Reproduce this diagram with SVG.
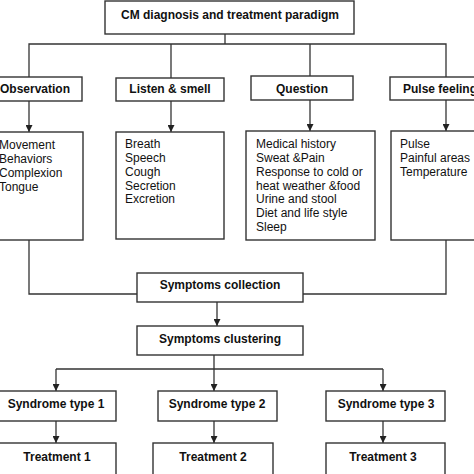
<svg xmlns="http://www.w3.org/2000/svg" width="474" height="474" viewBox="0 0 474 474">
<style>
.b{fill:#fff;stroke:#333;stroke-width:1.4}
.l{fill:none;stroke:#333;stroke-width:1.3}
.t{font-family:"Liberation Sans",Arial,sans-serif;font-size:12px;font-weight:bold;fill:#111;text-anchor:middle}
.s{font-family:"Liberation Sans",Arial,sans-serif;font-size:12px;fill:#111}
</style>
<defs>
<marker id="a" viewBox="0 0 10 10" refX="10" refY="5" markerWidth="7" markerHeight="7" markerUnits="userSpaceOnUse" orient="auto">
<path d="M0,0L10,5L0,10z" fill="#222"/>
</marker>
</defs>
<rect width="474" height="474" fill="#fff"/>
<g id="connectors">
<path class="l" d="M225,34V44M29,77V44H446V77M171,44V78M310,44V76"/>
<path class="l" d="M29,101V132" marker-end="url(#a)"/>
<path class="l" d="M171,101V132" marker-end="url(#a)"/>
<path class="l" d="M310,100V131" marker-end="url(#a)"/>
<path class="l" d="M446,100V131" marker-end="url(#a)"/>
<path class="l" d="M29,240V294H137M446,240V294H303"/>
<path class="l" d="M217,302V326" marker-end="url(#a)"/>
<path class="l" d="M214,355V369M56,369H383"/>
<path class="l" d="M56,369V391" marker-end="url(#a)"/>
<path class="l" d="M214,369V391" marker-end="url(#a)"/>
<path class="l" d="M383,369V391" marker-end="url(#a)"/>
<path class="l" d="M56,421V443" marker-end="url(#a)"/>
<path class="l" d="M214,421V443" marker-end="url(#a)"/>
<path class="l" d="M383,421V443" marker-end="url(#a)"/>
</g>
<g id="top"><rect class="b" x="105" y="1" width="249" height="33"/><text class="t" x="230" y="19">CM diagnosis and treatment paradigm</text></g>
<g id="observation"><rect class="b" x="-12" y="77" width="94" height="24"/><text class="t" x="35" y="93">Observation</text></g>
<g id="listen"><rect class="b" x="116" y="78" width="108" height="23"/><text class="t" x="170" y="93">Listen &amp; smell</text></g>
<g id="question"><rect class="b" x="251" y="76" width="102" height="24"/><text class="t" x="302" y="93">Question</text></g>
<g id="pulse"><rect class="b" x="390" y="77" width="110" height="23"/><text class="t" x="440" y="93">Pulse feeling</text></g>
<g id="obs-list"><rect class="b" x="-12" y="132" width="95" height="108"/>
<text class="s" x="-1" y="149">Movement</text><text class="s" x="-1" y="163">Behaviors</text><text class="s" x="-1" y="177">Complexion</text><text class="s" x="-1" y="191">Tongue</text></g>
<g id="listen-list"><rect class="b" x="116" y="132" width="108" height="107"/>
<text class="s" x="125" y="148">Breath</text><text class="s" x="125" y="162">Speech</text><text class="s" x="125" y="176">Cough</text><text class="s" x="125" y="190">Secretion</text><text class="s" x="125" y="203">Excretion</text></g>
<g id="question-list"><rect class="b" x="246" y="131" width="129" height="109"/>
<text class="s" x="256" y="148">Medical history</text><text class="s" x="256" y="162">Sweat &amp;Pain</text><text class="s" x="256" y="176">Response to cold or</text><text class="s" x="256" y="190">heat weather &amp;food</text><text class="s" x="256" y="203">Urine and stool</text><text class="s" x="256" y="217">Diet and life style</text><text class="s" x="256" y="231">Sleep</text></g>
<g id="pulse-list"><rect class="b" x="391" y="131" width="110" height="109"/>
<text class="s" x="400" y="148">Pulse</text><text class="s" x="400" y="162">Painful areas</text><text class="s" x="400" y="176">Temperature</text></g>
<g id="collection"><rect class="b" x="137" y="273" width="166" height="29"/><text class="t" x="220" y="289">Symptoms collection</text></g>
<g id="clustering"><rect class="b" x="137" y="326" width="166" height="29"/><text class="t" x="220" y="343">Symptoms clustering</text></g>
<g id="syn1"><rect class="b" x="-4" y="391" width="120" height="30"/><text class="t" x="56" y="408">Syndrome type 1</text></g>
<g id="syn2"><rect class="b" x="158" y="391" width="119" height="30"/><text class="t" x="217" y="408">Syndrome type 2</text></g>
<g id="syn3"><rect class="b" x="326" y="391" width="119" height="30"/><text class="t" x="386" y="408">Syndrome type 3</text></g>
<g id="tr1"><rect class="b" x="-4" y="443" width="120" height="36"/><text class="t" x="57" y="461">Treatment 1</text></g>
<g id="tr2"><rect class="b" x="153" y="443" width="120" height="36"/><text class="t" x="213" y="461">Treatment 2</text></g>
<g id="tr3"><rect class="b" x="326" y="443" width="119" height="36"/><text class="t" x="383" y="461">Treatment 3</text></g>
</svg>
